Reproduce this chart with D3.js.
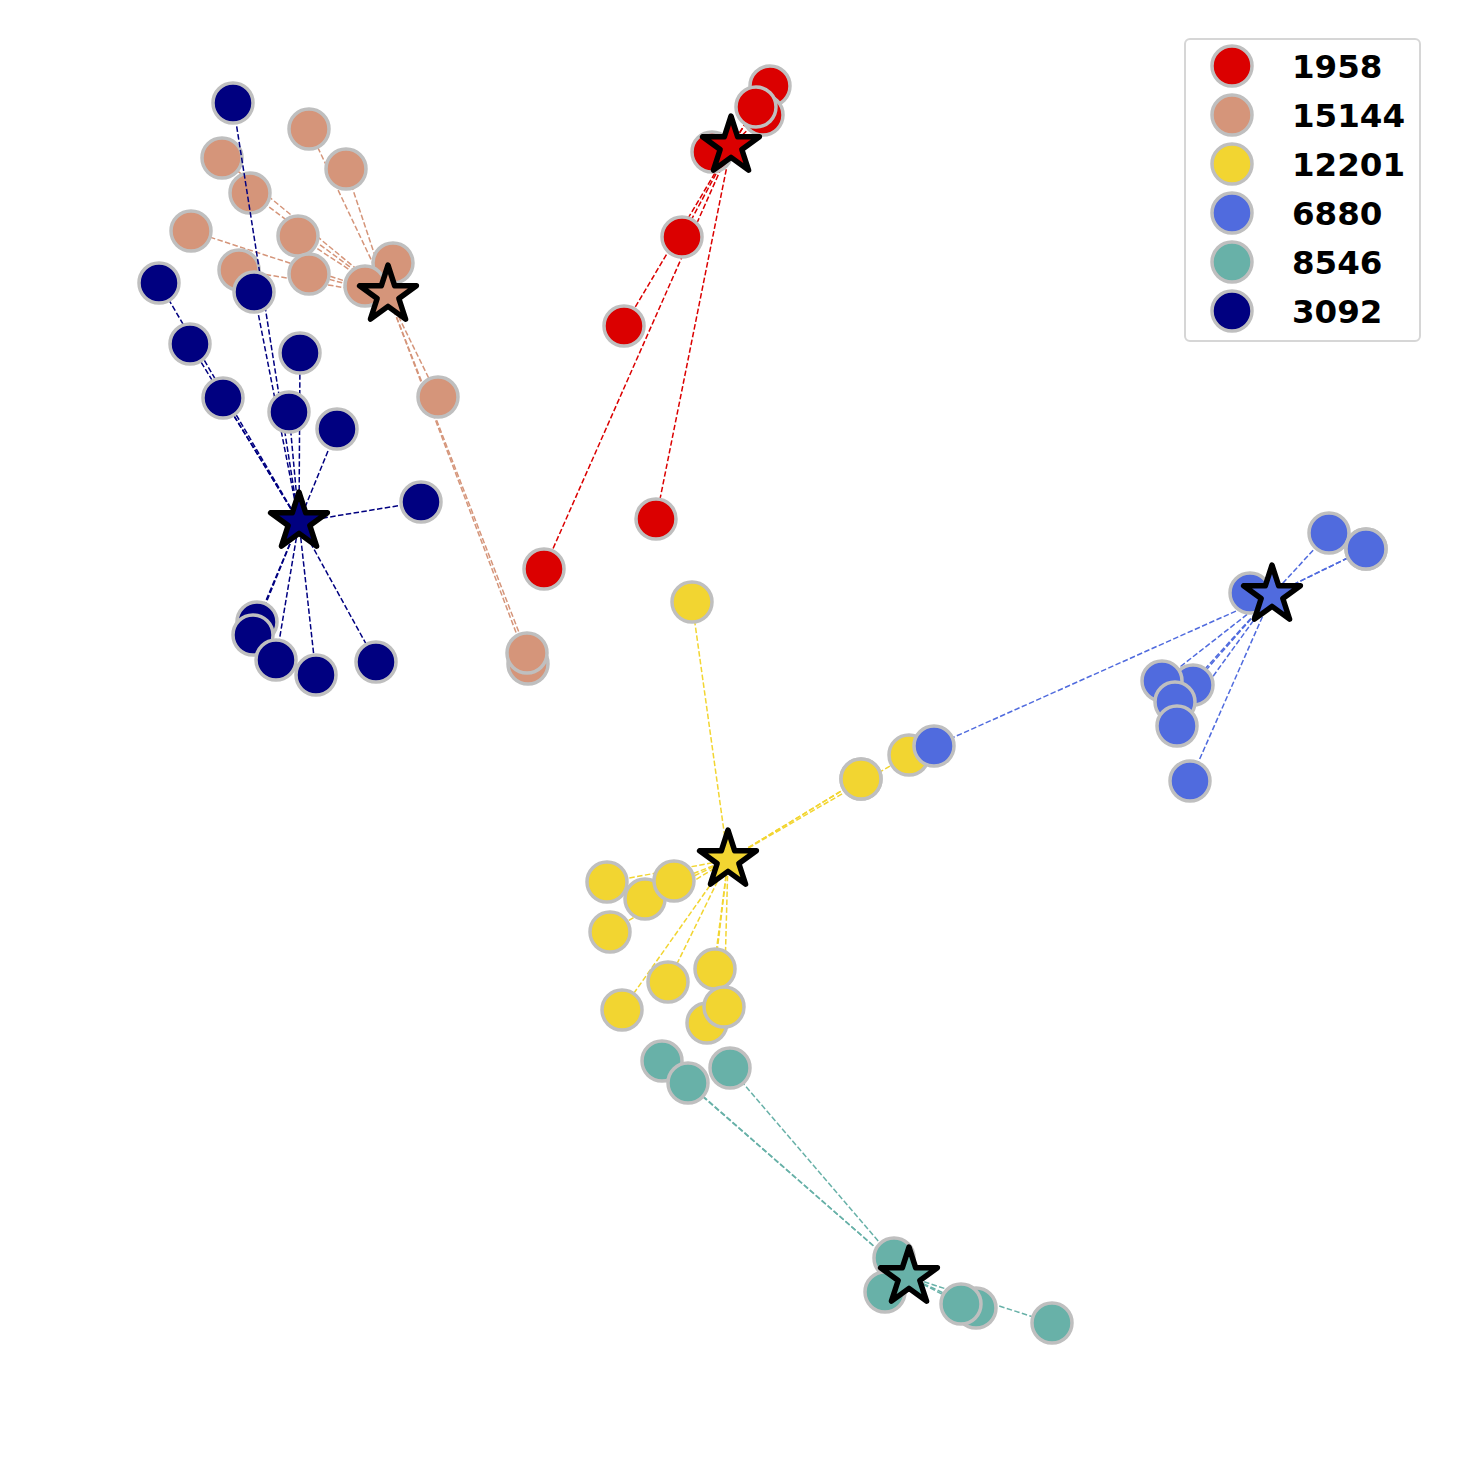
<!DOCTYPE html>
<html lang="en">
<head>
  <meta charset="utf-8">
  <title>Clusters</title>
  <style>
    body { margin: 0; background: #fff; }
  </style>
</head>
<body>
  <div id="chart"></div>
  <script src="https://d3js.org/d3.v7.min.js"></script>
  <script>
    // cluster labels and colours (legend order)
    var labels = ["1958", "15144", "12201", "6880", "8546", "3092"]
    var colors = ["#db0000", "#d5957a", "#f2d531", "#506bde", "#68b1a8", "#000080"]

    // cluster centres (stars), in plot units
    var centers = [[731, 146], [388, 295], [728, 860], [1272, 595], [909, 1277], [299, 522]]

    // members of each cluster
    var pts1958 = [[770, 86], [763, 115], [756, 107], [712, 152], [682, 237], [624, 326], [656, 519], [544, 569]]
    var pts15144 = [[309, 129], [346, 169], [222, 158], [250, 193], [191, 231], [298, 236], [239, 270],
                    [309, 274], [393, 263], [365, 286], [438, 397], [528, 664], [527, 653]]
    var pts12201 = [[692, 602], [861, 779], [861, 779], [909, 755], [607, 882], [645, 899], [674, 881],
                    [610, 932], [668, 982], [715, 969], [622, 1010], [707, 1023], [724, 1007]]
    var pts6880 = [[1329, 533], [1366, 549], [1366, 549], [1250, 593], [1193, 685], [1162, 681], [1175, 702],
                   [1177, 726], [1190, 781], [934, 746]]
    var pts8546 = [[662, 1061], [688, 1083], [730, 1068], [894, 1258], [885, 1292], [976, 1308],
                   [961, 1304], [1052, 1323]]
    var pts3092 = [[233, 103], [254, 292], [159, 283], [190, 344], [300, 353], [223, 398], [289, 412],
                   [337, 429], [421, 502], [257, 622], [253, 635], [276, 660], [316, 675], [376, 662]]

    var members = [pts1958, pts15144, pts12201, pts6880, pts8546, pts3092]

    var width = 1459, height = 1462

    var svg = d3.select("#chart")
      .append("svg")
        .attr("width", width)
        .attr("height", height)
        .style("font-family", "'DejaVu Sans', sans-serif")

    var x = d3.scaleLinear().domain([0, 1459]).range([0, width])
    var y = d3.scaleLinear().domain([0, 1462]).range([0, height])

    // lines + points, cluster by cluster
    members.forEach(function(pts, i) {
      var g = svg.append("g")
      var c = centers[i]
      g.selectAll("line")
        .data(pts)
        .enter().append("line")
          .attr("x1", x(c[0]))
          .attr("y1", y(c[1]))
          .attr("x2", function(d) { return x(d[0]) })
          .attr("y2", function(d) { return y(d[1]) })
          .attr("stroke", colors[i])
          .attr("stroke-width", 1.5)
          .attr("stroke-dasharray", "5.5,2.4")

      g.selectAll("circle")
        .data(pts)
        .enter().append("circle")
          .attr("cx", function(d) { return x(d[0]) })
          .attr("cy", function(d) { return y(d[1]) })
          .attr("r", 20)
          .attr("fill", colors[i])
          .attr("stroke", "#bfbfbf")
          .attr("stroke-width", 3.5)
    })

    // stars on top
    var star = d3.symbol().type(d3.symbolStar).size(1000)
    svg.append("g")
      .selectAll("path")
      .data(centers)
      .enter().append("path")
        .attr("d", star)
        .attr("transform", function(d) { return "translate(" + x(d[0]) + "," + y(d[1]) + ")" })
        .attr("fill", function(d, i) { return colors[i] })
        .attr("stroke", "#000")
        .attr("stroke-width", 5.5)
        .attr("stroke-linejoin", "round")

    // legend
    var legend = svg.append("g").attr("transform", "translate(1185, 39)")
    legend.append("rect")
      .attr("width", 235)
      .attr("height", 302)
      .attr("rx", 5)
      .attr("fill", "#fff")
      .attr("stroke", "#d6d6d6")
      .attr("stroke-width", 2)

    var item = legend.selectAll("g.item")
      .data(labels)
      .enter().append("g")
        .attr("class", "item")
        .attr("transform", function(d, i) { return "translate(0," + (27 + i * 49) + ")" })

    item.append("circle")
      .attr("cx", 47)
      .attr("r", 20)
      .attr("fill", function(d, i) { return colors[i] })
      .attr("stroke", "#bfbfbf")
      .attr("stroke-width", 3.5)

    item.append("text")
      .attr("x", 107)
      .attr("dy", "0.36em")
      .attr("font-size", 32.5)
      .attr("font-weight", "bold")
      .text(function(d) { return d })
  </script>
</body>
</html>
